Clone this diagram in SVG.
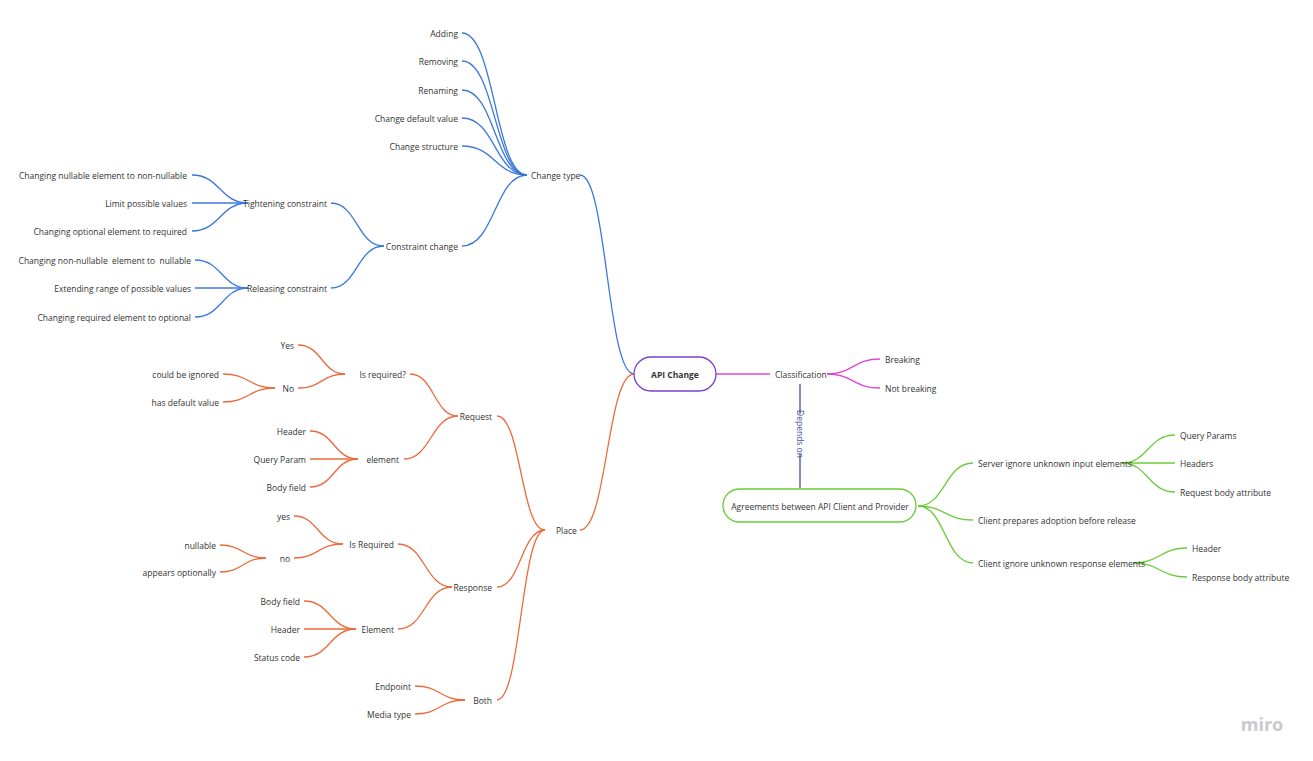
<svg xmlns="http://www.w3.org/2000/svg" width="1313" height="761" viewBox="0 0 1313 761">
<style>
text{font-family:"Open Sans","Noto Sans","Liberation Sans",sans-serif;font-size:8.5px;fill:#333;dominant-baseline:central}
.e{text-anchor:end}.m{text-anchor:middle}
path{fill:none;stroke-width:1.3}
.b{stroke:#3b78dc}.o{stroke:#ec6a3c}.p{stroke:#e444d6}.g{stroke:#6ccb3c}
</style>
<defs><marker id="ar" markerWidth="8" markerHeight="8" refX="7" refY="4" orient="auto" markerUnits="userSpaceOnUse"><path d="M0,0 L8,4 L0,8 z" fill="#3f4fa0" stroke="none"/></marker></defs>
<rect width="1313" height="761" fill="#fff"/>
<g id="connectors">
<g class="b">
<path d="M462,33 C495,33 495,175 527,175"/><path d="M462,61 C495,61 495,175 527,175"/><path d="M462,90 C495,90 495,175 527,175"/><path d="M462,118 C495,118 495,175 527,175"/><path d="M462,146 C495,146 495,175 527,175"/><path d="M462,246 C495,246 495,175 527,175"/>
<path d="M580,175 C607,175 607,374 634,374"/>
<path d="M331,203 C357,203 357,246 384,246"/><path d="M331,288 C357,288 357,246 384,246"/>
<path d="M192,175 C220,175 220,203 248,203"/><path d="M192,203 L248,203"/><path d="M192,231 C220,231 220,203 248,203"/>
<path d="M195,260 C222,260 222,288 248,288"/><path d="M195,288 L248,288"/><path d="M195,317 C222,317 222,288 248,288"/>
</g>
<g class="o">
<path d="M580,530 C607,530 607,374 634,374"/>
<path d="M497,416 C521,416 521,530 545,530"/><path d="M497,587 C521,587 521,530 545,530"/><path d="M497,700 C521,700 521,530 545,530"/>
<path d="M410,374 C434,374 434,416 458,416"/><path d="M404,459 C431,459 431,416 458,416"/>
<path d="M298,345 C322,345 322,374 345,374"/><path d="M298,388 C322,388 322,374 345,374"/>
<path d="M223,374 C249,374 249,388 275,388"/><path d="M223,402 C249,402 249,388 275,388"/>
<path d="M310,431 C334,431 334,459 358,459"/><path d="M310,459 L358,459"/><path d="M310,487 C334,487 334,459 358,459"/>
<path d="M398,544 C425,544 425,587 452,587"/><path d="M398,629 C425,629 425,587 452,587"/>
<path d="M294,516 C318,516 318,544 343,544"/><path d="M294,558 C318,558 318,544 343,544"/>
<path d="M220,545 C243,545 243,558 266,558"/><path d="M220,572 C243,572 243,558 266,558"/>
<path d="M304,601 C330,601 330,629 356,629"/><path d="M304,629 L356,629"/><path d="M304,657 C330,657 330,629 356,629"/>
<path d="M415,686 C440,686 440,700 465,700"/><path d="M415,714 C440,714 440,700 465,700"/>
</g>
<g class="p">
<path d="M716,374 L770,374"/>
<path d="M827,374 C853,374 853,359 880,359"/><path d="M827,374 C853,374 853,388 880,388"/>
</g>
<g class="g">
<path d="M918,506 C945,506 945,463 973,463"/><path d="M918,506 C945,506 945,520 973,520"/><path d="M918,506 C945,506 945,563 973,563"/>
<path d="M1122,463 C1148,463 1148,435 1175,435"/><path d="M1122,463 L1175,463"/><path d="M1122,463 C1148,463 1148,492 1175,492"/>
<path d="M1133,563 C1160,563 1160,548 1187,548"/><path d="M1133,563 C1160,563 1160,577 1187,577"/>
</g>
<g id="depends">
<path d="M800,384 L800,488" stroke="#3f4fa0" marker-end="url(#ar)"/>
<rect x="794" y="414" width="12" height="40" fill="#fff"/>
<text x="800" y="434" class="m" transform="rotate(90 800 434)" style="fill:#3f4fa0">Depends on</text>
</g>
</g>
<g id="api-change"><rect x="634" y="357" width="82" height="34" rx="17" fill="#fff" stroke="#7b3fd0" stroke-width="1.3"/><text x="675" y="374" class="m" style="font-weight:bold">API Change</text></g>
<g id="agreements"><rect x="723" y="489" width="193" height="33" rx="16.5" fill="#fff" stroke="#6ccb3c" stroke-width="1.3"/><text x="820" y="506" class="m">Agreements between API Client and Provider</text></g>
<g id="change-type"><text x="531" y="175">Change type</text></g>
<g id="adding"><text x="458" y="33" class="e">Adding</text></g>
<g id="removing"><text x="458" y="61" class="e">Removing</text></g>
<g id="renaming"><text x="458" y="90" class="e">Renaming</text></g>
<g id="change-default"><text x="458" y="118" class="e">Change default value</text></g>
<g id="change-structure"><text x="458" y="146" class="e">Change structure</text></g>
<g id="constraint-change"><text x="458" y="246" class="e">Constraint change</text></g>
<g id="tightening"><text x="327" y="203" class="e">Tightening constraint</text></g>
<g id="releasing"><text x="327" y="288" class="e">Releasing constraint</text></g>
<g id="t1"><text x="187" y="175" class="e">Changing nullable element to non-nullable</text></g>
<g id="t2"><text x="187" y="203" class="e">Limit possible values</text></g>
<g id="t3"><text x="187" y="231" class="e">Changing optional element to required</text></g>
<g id="r1"><text x="191" y="260" class="e" xml:space="preserve">Changing non-nullable  element to  nullable</text></g>
<g id="r2"><text x="191" y="288" class="e">Extending range of possible values</text></g>
<g id="r3"><text x="191" y="317" class="e">Changing required element to optional</text></g>
<g id="place"><text x="556" y="530">Place</text></g>
<g id="request"><text x="492" y="416" class="e">Request</text></g>
<g id="response"><text x="492" y="587" class="e">Response</text></g>
<g id="both"><text x="492" y="700" class="e">Both</text></g>
<g id="is-required-q"><text x="406" y="374" class="e">Is required?</text></g>
<g id="element-req"><text x="399" y="459" class="e">element</text></g>
<g id="yes1"><text x="294" y="345" class="e">Yes</text></g>
<g id="no1"><text x="294" y="388" class="e">No</text></g>
<g id="ignored"><text x="219" y="374" class="e">could be ignored</text></g>
<g id="default"><text x="219" y="402" class="e">has default value</text></g>
<g id="header1"><text x="306" y="431" class="e">Header</text></g>
<g id="query"><text x="306" y="459" class="e">Query Param</text></g>
<g id="body1"><text x="306" y="487" class="e">Body field</text></g>
<g id="is-required2"><text x="394" y="544" class="e">Is Required</text></g>
<g id="element-resp"><text x="394" y="629" class="e">Element</text></g>
<g id="yes2"><text x="290" y="516" class="e">yes</text></g>
<g id="no2"><text x="290" y="558" class="e">no</text></g>
<g id="nullable"><text x="216" y="545" class="e">nullable</text></g>
<g id="optionally"><text x="216" y="572" class="e">appears optionally</text></g>
<g id="body2"><text x="300" y="601" class="e">Body field</text></g>
<g id="header2"><text x="300" y="629" class="e">Header</text></g>
<g id="status"><text x="300" y="657" class="e">Status code</text></g>
<g id="endpoint"><text x="411" y="686" class="e">Endpoint</text></g>
<g id="media"><text x="411" y="714" class="e">Media type</text></g>
<g id="classification"><text x="775" y="374">Classification</text></g>
<g id="breaking"><text x="885" y="359">Breaking</text></g>
<g id="not-breaking"><text x="885" y="388">Not breaking</text></g>
<g id="server-ignore"><text x="978" y="463">Server ignore unknown input elements</text></g>
<g id="client-prepares"><text x="978" y="520">Client prepares adoption before release</text></g>
<g id="client-ignore"><text x="978" y="563">Client ignore unknown response elements</text></g>
<g id="query-params"><text x="1180" y="435">Query Params</text></g>
<g id="headers"><text x="1180" y="463">Headers</text></g>
<g id="req-body"><text x="1180" y="492">Request body attribute</text></g>
<g id="header3"><text x="1192" y="548">Header</text></g>
<g id="resp-body"><text x="1192" y="577">Response body attribute</text></g>
<text x="1262" y="724" class="m" style="font-size:18px;fill:#c9c9cf;font-weight:bold;font-family:'Open Sans',sans-serif">miro</text>
</svg>
